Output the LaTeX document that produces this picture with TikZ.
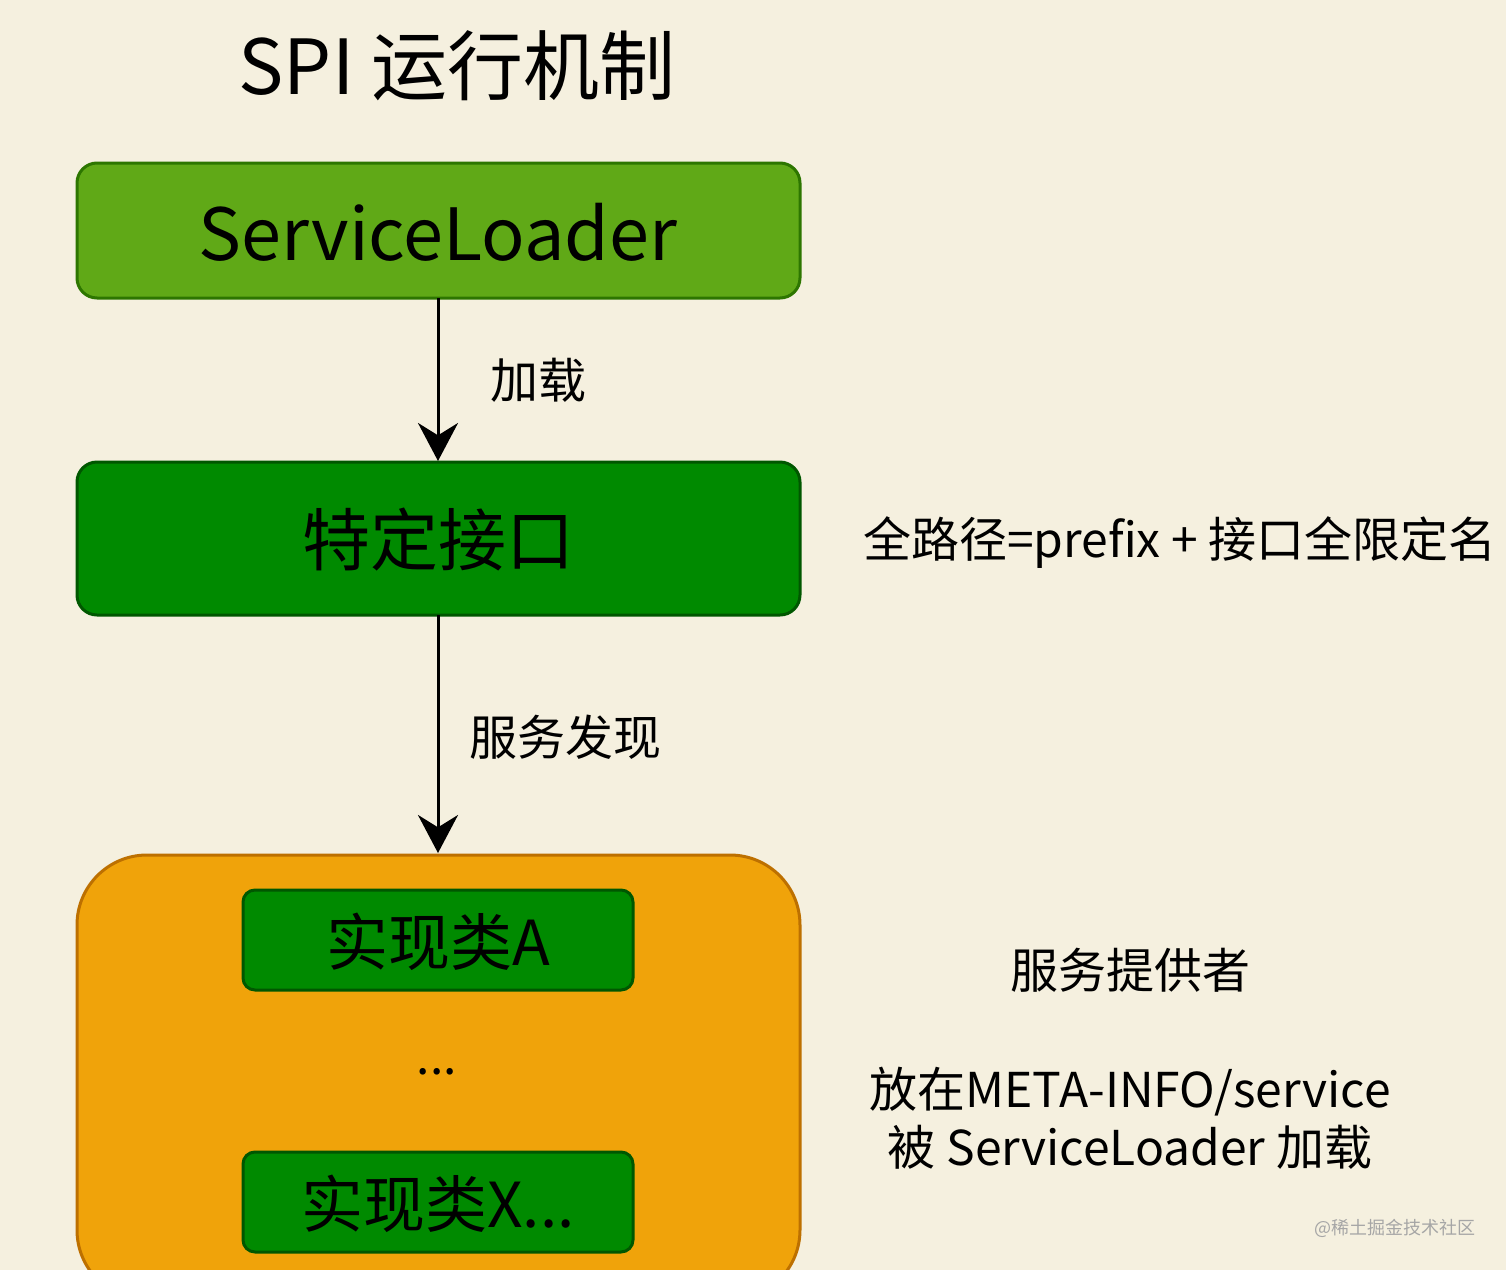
\documentclass[tikz,border=0pt]{standalone}
\usepackage{fontspec}
\setmainfont{Noto Sans CJK SC}
\usetikzlibrary{arrows.meta}
\definecolor{bg}{HTML}{F5F0DF}
\definecolor{lg}{HTML}{60A917}
\definecolor{lgb}{HTML}{2D7600}
\definecolor{dg}{HTML}{008A00}
\definecolor{dgb}{HTML}{005700}
\definecolor{og}{HTML}{F0A30A}
\definecolor{ogb}{HTML}{BD7000}
\begin{document}
\begin{tikzpicture}[x=0.5pt,y=-0.5pt,
  box/.style={draw, line width=1.5pt, rounded corners=10pt},
  arr/.style={line width=1.5pt, -{Stealth[length=19pt,width=20pt]}},
  lbl/.style={font=\fontsize{24}{28}\selectfont, anchor=center}]
\fill[bg] (0,0) rectangle (1506,1270);
\useasboundingbox (0,0) rectangle (1506,1270);
\node[font=\fontsize{38}{44}\selectfont] (title) at (457,66) {SPI 运行机制};
\draw[box, fill=lg, draw=lgb] (77,163) rectangle (800,298);
\node[font=\fontsize{36}{42}\selectfont] (sl) at (438,232) {ServiceLoader};
\coordinate (slb) at (438,298);
\draw[box, fill=dg, draw=dgb] (77,462) rectangle (800,615);
\node[font=\fontsize{34}{40}\selectfont] (it) at (438,540) {特定接口};
\coordinate (itt) at (438,461);
\coordinate (itb) at (438,615);
\draw[box, fill=og, draw=ogb, rounded corners=35pt] (77,855) rectangle (800,1300);
\coordinate (ogt) at (438,853);
\draw[box, fill=dg, draw=dgb, rounded corners=6pt] (243,890) rectangle (633,990);
\node[font=\fontsize{31}{36}\selectfont] (a) at (438,942) {实现类A};
\node[font=\fontsize{24}{28}\selectfont] (dots) at (437,1072) {...};
\draw[box, fill=dg, draw=dgb, rounded corners=6pt] (243,1152) rectangle (633,1252);
\node[font=\fontsize{31}{36}\selectfont] (x) at (438,1204) {实现类X...};
\draw[arr] (slb) -- (itt);
\draw[arr] (itb) -- (ogt);
\node[lbl] (l1) at (538,380) {加载};
\node[lbl] (l2) at (565,737) {服务发现};
\node[lbl] (r1) at (1180,543) {全路径=prefix + 接口全限定名};
\node[lbl] (r2) at (1130,970) {服务提供者};
\node[lbl, align=center, font=\fontsize{24}{29}\selectfont] (r3) at (1130,1118) {放在META-INFO/service\\被 ServiceLoader 加载};
\node[font=\fontsize{9}{11}\selectfont, text=gray!70] (wm) at (1395,1228) {@稀土掘金技术社区};
\end{tikzpicture}
\end{document}
